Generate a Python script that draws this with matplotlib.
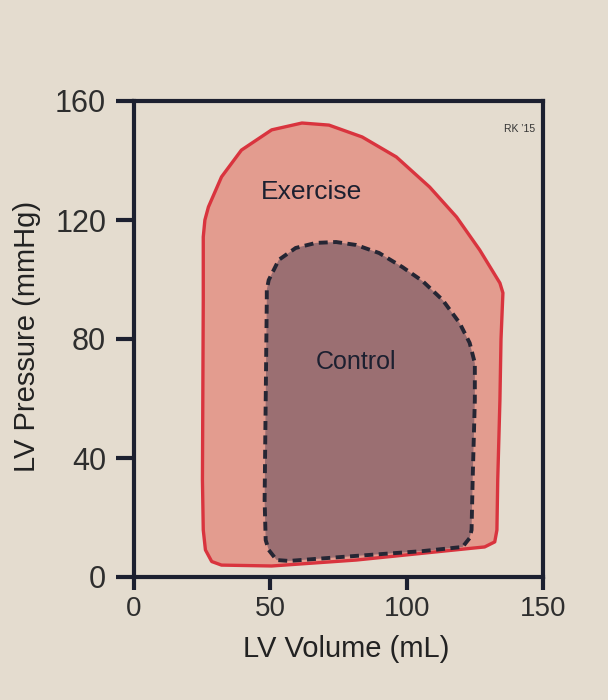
import matplotlib
matplotlib.use("Agg")
import matplotlib.pyplot as plt

# Exercise PV loop outline (LV volume mL, LV pressure mmHg)
exercise_vol = [25.1, 25.4, 25.4, 26.0, 27.3, 32.1, 39.4, 50.5, 61.6, 71.5, 83.7, 96.2,
                108.4, 118.3, 126.8, 134.2, 135.3, 134.6, 134.2, 133.4, 133.1, 132.3,
                128.6, 124.2, 81.5, 50.5, 32.1, 28.5, 26.2, 25.4]
exercise_prs = [32.6, 93.0, 114.3, 120.0, 124.4, 134.5, 143.5, 150.3, 152.6, 151.9, 147.9, 141.2,
                131.1, 121.0, 109.9, 98.8, 95.5, 80.0, 59.5, 32.6, 15.8, 11.8,
                10.1, 9.7, 5.7, 3.7, 4.0, 5.2, 9.1, 15.8]

# Control PV loop outline
control_vol = [48.3, 48.7, 48.7, 49.4, 53.1, 59.3, 66.7, 74.1, 81.5, 89.9, 98.4, 105.8,
               113.2, 119.4, 123.1, 125.0, 125.0, 124.2, 123.8, 123.1, 120.5, 105.8,
               81.5, 56.8, 52.3, 49.4, 48.3, 47.9]
control_prs = [59.5, 93.1, 96.5, 99.8, 106.6, 110.6, 112.3, 112.6, 111.6, 108.9, 104.2, 99.5,
               93.1, 85.4, 78.7, 71.9, 59.5, 32.6, 15.8, 13.1, 10.1, 8.7,
               7.1, 5.4, 5.7, 9.1, 12.4, 25.9]

x_ticks = [0, 50, 100, 150]
y_ticks = [0, 40, 80, 120, 160]

bg = "#e4dccf"
ink = "#1c2030"
plt.rcParams['font.family'] = ['Liberation Sans', 'DejaVu Sans']

fig = plt.figure(figsize=(6.08, 7.0), dpi=100, facecolor=bg)
ax = fig.add_axes([134/608, 1-577/700, (543-134)/608, (577-101)/700])
ax.set_facecolor(bg)

ax.fill(exercise_vol, exercise_prs, facecolor="#e39c8f", edgecolor="#d9343e",
        linewidth=2.4, joinstyle="round", zorder=2)
ax.fill(control_vol, control_prs, facecolor="#9b6f72", edgecolor="none", zorder=3)
ax.fill(control_vol, control_prs, facecolor="none", edgecolor="#252634",
        linewidth=2.8, linestyle=(0, (2.3, 1.4)), zorder=4)

ax.text(65.2, 129.4, "Exercise", fontsize=19, color=ink, ha="center", va="center", zorder=5)
ax.text(81.5, 72.3, "Control", fontsize=18, color=ink, ha="center", va="center", zorder=5)
ax.text(147, 150.5, "RK \u201915", fontsize=7.5, color="#333333", ha="right", va="center", zorder=5)

ax.set_xlim(0, 150)
ax.set_ylim(0, 160)
ax.set_xticks(x_ticks)
ax.set_yticks(y_ticks)
for s in ax.spines.values():
    s.set_color(ink)
    s.set_linewidth(3)
ax.tick_params(axis="both", colors=ink, width=3, labelcolor="#2e2e2e")
ax.tick_params(axis="y", length=13, pad=7, labelsize=22)
ax.tick_params(axis="x", length=9.5, pad=4, labelsize=20)

ax.set_xlabel("LV Volume (mL)", fontsize=21, color="#222222")
ax.set_ylabel("LV Pressure (mmHg)", fontsize=21, color="#222222")
ax.xaxis.set_label_coords(0.518, -0.122)
ax.yaxis.set_label_coords(-0.228, 0.506)

fig.savefig("out.png", dpi=100, facecolor=bg)
